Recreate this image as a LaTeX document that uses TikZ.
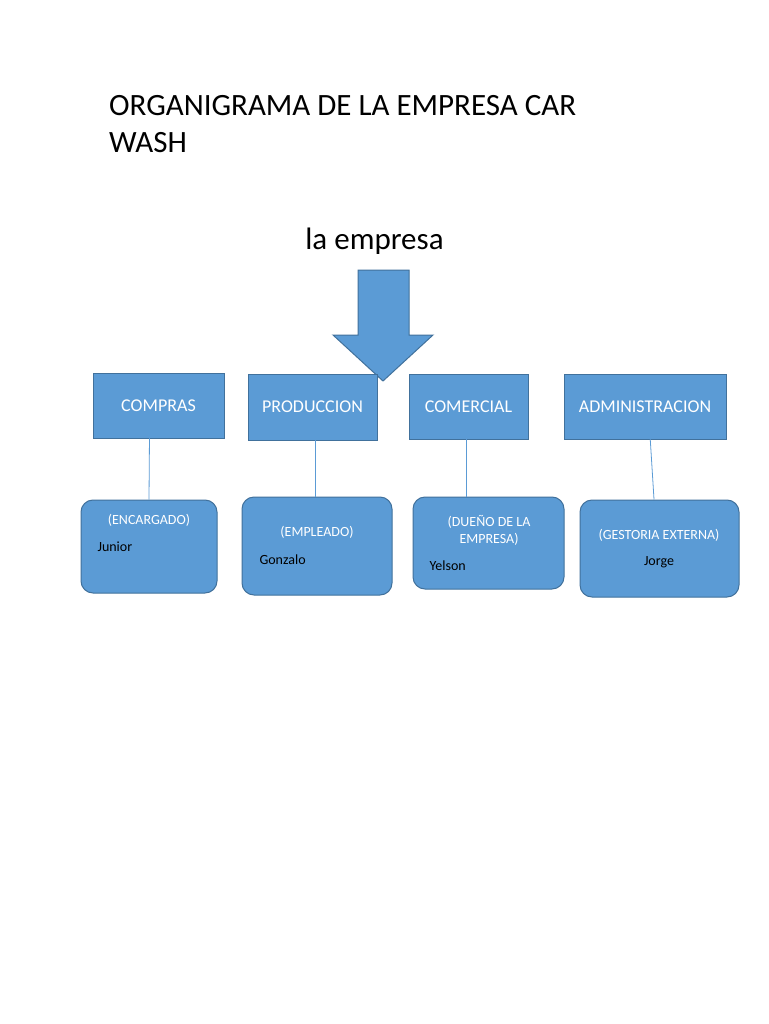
\documentclass[tikz,border=0pt]{standalone}
\usepackage{fontspec}
\setmainfont{Carlito}
\usetikzlibrary{positioning}
\definecolor{boxblue}{HTML}{5B9BD5}
\definecolor{edgeblue}{HTML}{41719C}

\begin{document}
\begin{tikzpicture}[x=1pt,y=-1pt,
  dept/.style={draw=edgeblue,fill=boxblue,line width=1pt,minimum width=#1,minimum height=65pt,text=white,font=\fontsize{18}{21}\selectfont},
  person/.style={draw=edgeblue,fill=boxblue,line width=1pt,rounded corners=12pt,minimum width=#1,minimum height=95pt},
  role/.style={text=white,align=center,font=\fontsize{14}{17}\selectfont},
  who/.style={text=black,font=\fontsize{14}{16}\selectfont},
  link/.style={draw=boxblue,line width=0.8pt}]
\useasboundingbox (0,0) rectangle (768,1024);
\fill[white] (0,0) rectangle (768,1024);
% title
\node[anchor=base west,inner sep=0pt,font=\fontsize{31}{35}\selectfont] (title1) at (109,116) {ORGANIGRAMA DE LA EMPRESA CAR};
\node[anchor=base west,inner sep=0pt,font=\fontsize{31}{35}\selectfont] (title2) at (109,153) {WASH};
\node[anchor=base,inner sep=0pt,font=\fontsize{31}{35}\selectfont] (top) at (374.5,249) {la empresa};
% big arrow
\filldraw[fill=boxblue,draw=edgeblue,line width=1pt] (358,270) -- (409,270) -- (409,335) -- (433,335)
  -- (383,381) -- (333,335) -- (358,335) -- cycle;
% departments
\node[dept=131pt] (compras) at (158.5,405.5) {COMPRAS};
\node[dept=129pt,minimum height=66pt] (produccion) at (312.5,407) {PRODUCCION};
\node[dept=119pt] (comercial) at (468.5,406.5) {COMERCIAL};
\node[dept=162pt] (admin) at (645,406.5) {ADMINISTRACION};
% people
\node[person=136pt,minimum height=93pt] (encargado) at (149,546.5) {};
\node[person=150pt,minimum height=98pt] (empleado) at (317,546) {};
\node[person=151pt,minimum height=92pt] (duenio) at (488.5,543) {};
\node[person=159pt,minimum height=97pt] (gestoria) at (659.5,548.5) {};
\node[role] at (149,520) {(ENCARGADO)};
\node[who,anchor=west] at (94,547) {Junior};
\node[role] at (317,532) {(EMPLEADO)};
\node[who,anchor=west] at (256,560) {Gonzalo};
\node[role] at (489,530) {(DUEÑO DE LA\\EMPRESA)};
\node[who,anchor=west] at (426,566) {Yelson};
\node[role] at (659,535) {(GESTORIA EXTERNA)};
\node[who] at (659,562) {Jorge};
% links
\draw[link] ([xshift=-9pt,yshift=4pt]compras.south) -- (encargado.north);
\draw[link] ([xshift=2.5pt,yshift=4pt]produccion.south) -- ([xshift=-2pt]empleado.north);
\draw[link] ([xshift=-2.5pt,yshift=3pt]comercial.south) -- ([xshift=-22.5pt]duenio.north);
\draw[link] ([xshift=5pt,yshift=4pt]admin.south) -- ([xshift=-5.5pt]gestoria.north);
\end{tikzpicture}
\end{document}
